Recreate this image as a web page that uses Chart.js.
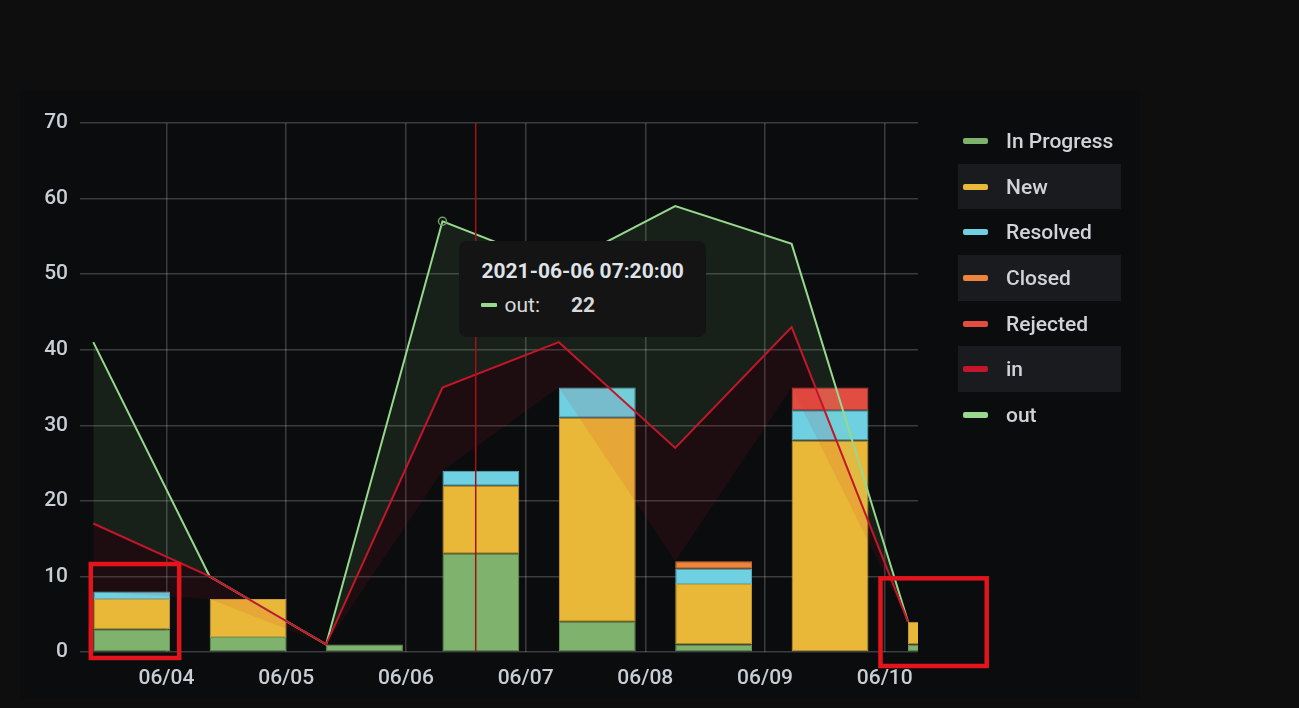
<!DOCTYPE html>
<html lang="en">
<head>
  <meta charset="UTF-8" />
  <meta name="viewport" content="width=device-width, initial-scale=1" />
  <title>Issues in / out</title>
  <script src="https://cdn.jsdelivr.net/npm/chart.js"></script>
  <style>
    html, body {
      margin: 0;
      padding: 0;
      width: 1299px;
      height: 708px;
      overflow: hidden;
      background: #0e0e0f;
      font-family: Roboto, "Noto Sans", sans-serif;
    }
    .panel {
      position: absolute;
      left: 20px;
      top: 90px;
      width: 1120px;
      height: 608px;
      background: #0b0c0e;
    }
    .chart-box {
      position: absolute;
      left: 0;
      top: 0;
      width: 1299px;
      height: 708px;
    }
    #legend {
      position: absolute;
      left: 958px;
      top: 118px;
      width: 163px;
    }
    #legend .row {
      height: 45.7px;
      display: flex;
      align-items: center;
      color: #d0d3d7;
      font-size: 21px;
      font-weight: 500;
    }
    #legend .row:nth-child(even) {
      background: #1a1b1f;
    }
    #legend .swatch {
      width: 25px;
      height: 6px;
      border-radius: 2px;
      margin-left: 5px;
      margin-right: 18px;
    }
    #tip {
      position: absolute;
      background: #141415;
      border-radius: 8px;
      padding: 17px 22px 19px;
      color: #d8d9da;
      white-space: nowrap;
      pointer-events: none;
      opacity: 0;
    }
    #tip .tt-title {
      font-weight: 700;
      font-size: 21px;
      line-height: 26px;
      color: #dfe3e8;
    }
    #tip .tt-row {
      display: flex;
      align-items: center;
      margin-top: 8px;
      font-size: 21px;
      line-height: 26px;
    }
    #tip .tt-sw {
      width: 16px;
      height: 4px;
      border-radius: 1px;
      margin-right: 7px;
    }
    #tip .tt-val {
      font-weight: 700;
      margin-left: 31px;
    }
  </style>
</head>
<body>

  <div class="panel"></div>
  <div class="chart-box">
    <canvas id="issuesChart"></canvas>
  </div>
  <div id="legend"></div>
  <div id="tip"></div>

<script>
  // time buckets and series values
  const times = [
    '2021-06-03 09:20', '2021-06-04 08:40', '2021-06-05 08:00', '2021-06-06 07:20',
    '2021-06-07 06:40', '2021-06-08 06:00', '2021-06-09 05:20', '2021-06-10 04:40'
  ];
  const inProgress = [3, 2, 1, 13, 4, 1, 0, 1];
  const newIssues  = [4, 5, 0, 9, 27, 8, 28, 3];
  const resolved   = [1, 0, 0, 2, 4, 2, 4, 0];
  const closed     = [0, 0, 0, 0, 0, 1, 0, 0];
  const rejected   = [0, 0, 0, 0, 0, 0, 3, 0];
  const inSeries   = [9, 3, 0, 11, 6, 15, 8, 0];
  const outSeries  = [24, 0, 0, 22, 10, 32, 11, 0];

  const dayTicks = ['06/04', '06/05', '06/06', '06/07', '06/08', '06/09', '06/10'];
  const yTicks = [0, 10, 20, 30, 40, 50, 60, 70];
  const rangeStart = '2021-06-03 06:40';
  const rangeEnd = '2021-06-10 06:40';

  // hovered point and shared crosshair
  const hoverTime = '2021-06-06 07:20';
  const hoverSeries = 'out';
  const crosshairTime = '2021-06-06 14:00';

  // red marker boxes drawn on the screenshot (hours from 06/04 00:00, y units)
  const markerBoxes = [
    { x0: -15.17, x1: 2.55, y0: 11.64, y1: -0.79 },
    { x0: 143.15, x1: 164.44, y0: 9.75, y1: -1.85 }
  ];

  const ORIGIN = Date.parse('2021-06-04T00:00:00Z');
  function toHours(s) {
    return (Date.parse(s.replace(' ', 'T') + ':00Z') - ORIGIN) / 3600000;
  }
  function fmtHours(h) {
    const d = new Date(ORIGIN + Math.round(h * 60) * 60000);
    return d.toISOString().slice(0, 19).replace('T', ' ');
  }

  const xs = times.map(toHours);
  const dayValues = dayTicks.map(d => toHours('2021-' + d.replace('/', '-') + ' 00:00'));
  const barPct = 0.66;
  // bars start at the bucket time, so shift their centre by half a bar
  const barShift = (xs[1] - xs[0]) * barPct / 2;
  const barX = xs.map(x => x + barShift);
  const barTotals = xs.map((_, i) => inProgress[i] + newIssues[i] + resolved[i] + closed[i] + rejected[i]);

  const gridColor = 'rgba(255,255,255,0.2)';
  const tickColor = '#c9ced4';

  function barSet(label, values, color, edge) {
    return {
      type: 'bar',
      label: label,
      stack: 'bars',
      order: 1,
      data: values.map((v, i) => ({ x: barX[i], y: v })),
      backgroundColor: color,
      borderColor: edge,
      borderWidth: c => (c.raw && c.raw.y > 0 ? 1 : 0),
      borderSkipped: false,
      categoryPercentage: 1,
      barPercentage: barPct
    };
  }

  function lineSet(label, values, color, fillColor, extra) {
    return Object.assign({
      type: 'line',
      label: label,
      stack: 'lines',
      order: 0,
      data: values.map((v, i) => ({ x: xs[i], y: v })),
      borderColor: color,
      backgroundColor: fillColor,
      borderWidth: 2,
      pointRadius: 0,
      pointHoverRadius: 0,
      tension: 0,
      fill: '-1'
    }, extra || {});
  }

  const datasets = [
    barSet('In Progress', inProgress, '#7eb26d', '#6c9c5d'),
    barSet('New', newIssues, '#eab839', '#c99e33'),
    barSet('Resolved', resolved, '#6ed0e0', '#5db3c2'),
    barSet('Closed', closed, '#ef843c', '#cf7133'),
    barSet('Rejected', rejected, '#e24d42', '#c3433a'),
    // invisible base so that "in" fills down to the top of the bar stack
    lineSet('', barTotals, 'rgba(0,0,0,0)', 'rgba(0,0,0,0)', { borderWidth: 0, fill: false, hideInLegend: true }),
    lineSet('in', inSeries, '#c4162a', 'rgba(196,22,42,0.1)'),
    lineSet('out', outSeries, '#96d98d', 'rgba(150,217,141,0.1)', {
      pointHoverRadius: 4,
      pointHoverBorderWidth: 1.5,
      pointHoverBackgroundColor: 'rgba(0,0,0,0)',
      pointHoverBorderColor: '#6f9f69'
    })
  ];

  const htmlLegend = {
    id: 'htmlLegend',
    afterUpdate(chart) {
      const box = document.getElementById('legend');
      box.innerHTML = '';
      chart.data.datasets.forEach(ds => {
        if (ds.hideInLegend) return;
        const row = document.createElement('div');
        row.className = 'row';
        const sw = document.createElement('span');
        sw.className = 'swatch';
        sw.style.background = ds.type === 'line' ? ds.borderColor : ds.backgroundColor;
        const txt = document.createElement('span');
        txt.textContent = ds.label;
        row.appendChild(sw);
        row.appendChild(txt);
        box.appendChild(row);
      });
    }
  };

  const crosshair = {
    id: 'crosshair',
    afterDatasetsDraw(chart) {
      const { ctx, chartArea, scales } = chart;
      const x = scales.x.getPixelForValue(toHours(crosshairTime));
      ctx.save();
      ctx.strokeStyle = '#a31018';
      ctx.lineWidth = 1.5;
      ctx.beginPath();
      ctx.moveTo(x, chartArea.top);
      ctx.lineTo(x, chartArea.bottom);
      ctx.stroke();
      ctx.restore();
    }
  };

  const markers = {
    id: 'markers',
    afterDraw(chart) {
      const { ctx, scales } = chart;
      ctx.save();
      ctx.strokeStyle = '#e3141b';
      ctx.lineWidth = 4.5;
      markerBoxes.forEach(b => {
        const l = scales.x.getPixelForValue(b.x0);
        const r = scales.x.getPixelForValue(b.x1);
        const t = scales.y.getPixelForValue(b.y0);
        const btm = scales.y.getPixelForValue(b.y1);
        ctx.strokeRect(l, t, r - l, btm - t);
      });
      ctx.restore();
    }
  };

  function externalTip(context) {
    const { chart, tooltip } = context;
    const el = document.getElementById('tip');
    if (tooltip.opacity === 0 || !tooltip.dataPoints || !tooltip.dataPoints.length) {
      el.style.opacity = 0;
      return;
    }
    const p = tooltip.dataPoints[0];
    el.innerHTML =
      '<div class="tt-title">' + tooltip.title[0] + '</div>' +
      '<div class="tt-row"><span class="tt-sw" style="background:' + p.dataset.borderColor + '"></span>' +
      '<span>' + p.dataset.label + ':</span><span class="tt-val">' + p.raw.y + '</span></div>';
    el.style.left = (chart.canvas.offsetLeft + tooltip.caretX + 17) + 'px';
    el.style.top = (chart.canvas.offsetTop + tooltip.caretY + 20) + 'px';
    el.style.opacity = 1;
  }

  Chart.defaults.font.family = 'Roboto, "Noto Sans", sans-serif';

  const chart = new Chart(document.getElementById('issuesChart'), {
    type: 'bar',
    data: { datasets: datasets },
    plugins: [htmlLegend, crosshair, markers],
    options: {
      responsive: true,
      maintainAspectRatio: false,
      animation: false,
      events: [],
      layout: { padding: { left: 20, top: 123, right: 381, bottom: 16 } },
      plugins: {
        legend: { display: false },
        tooltip: {
          enabled: false,
          external: externalTip,
          callbacks: {
            title: items => fmtHours(items[0].parsed.x)
          }
        }
      },
      scales: {
        x: {
          type: 'linear',
          min: toHours(rangeStart),
          max: toHours(rangeEnd),
          offset: false,
          border: { display: false },
          grid: { color: gridColor, lineWidth: 1.5, drawTicks: false, offset: false },
          ticks: {
            color: tickColor,
            font: { size: 21, weight: '500' },
            padding: 14,
            maxRotation: 0,
            autoSkip: false,
            callback: (v, i) => dayTicks[i]
          },
          afterBuildTicks: s => { s.ticks = dayValues.map(v => ({ value: v })); },
          afterFit: s => { s.height = 40; }
        },
        y: {
          stacked: true,
          min: yTicks[0],
          max: yTicks[yTicks.length - 1],
          border: { display: false },
          grid: { color: gridColor, lineWidth: 1.5, drawTicks: false },
          ticks: {
            color: tickColor,
            font: { size: 21, weight: '500' },
            padding: 12,
            stepSize: 10
          },
          afterBuildTicks: s => { s.ticks = yTicks.map(v => ({ value: v })); },
          afterFit: s => { s.width = 60; }
        }
      }
    }
  });

  const hoverIdx = times.indexOf(hoverTime);
  const hoverDs = chart.data.datasets.findIndex(d => d.label === hoverSeries);
  const active = [{ datasetIndex: hoverDs, index: hoverIdx }];
  chart.setActiveElements(active);
  chart.tooltip.setActiveElements(active, { x: 0, y: 0 });
  chart.update();
</script>
</body>
</html>
